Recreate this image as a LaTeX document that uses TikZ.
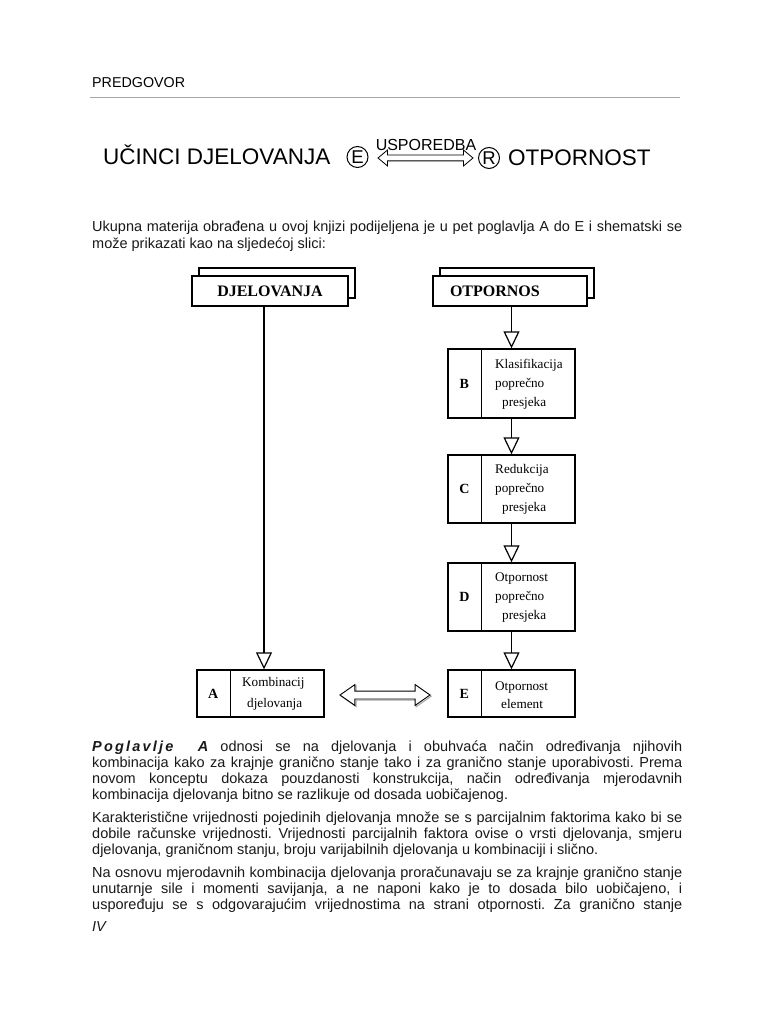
\documentclass[tikz,border=0pt]{standalone}
\usepackage{fontspec}
\setmainfont{Liberation Sans}
\newfontfamily\tms{Liberation Serif}
\usetikzlibrary{arrows.meta,shapes.arrows,calc}
\frenchspacing
\newcommand\jl[1]{\makebox[590pt][s]{#1}}
\newcommand\pg{\textbf{\textit{P\kern2.2pt o\kern2.2pt g\kern2.2pt l\kern2.2pt a\kern2.2pt v\kern2.2pt l\kern2.2pt j\kern2.2pt e}}}
\begin{document}
\begin{tikzpicture}[x=1pt,y=-1pt,
  body/.style={anchor=base west, inner sep=0pt, font=\fontsize{14.5}{16}\selectfont, text=black!90},
  hdr/.style={draw, line width=1.4pt, fill=white, minimum width=156pt, minimum height=30pt, inner sep=0pt, font=\tms\bfseries\fontsize{16}{18}\selectfont},
  bx/.style={draw, line width=1.4pt, minimum width=127pt, inner sep=0pt},
  divider/.style={line width=1.4pt},
  letter/.style={font=\tms\bfseries\fontsize{14}{16}\selectfont, inner sep=0pt},
  cell/.style={font=\tms\fontsize{13.2}{19}\selectfont, align=left, anchor=west, inner sep=0pt},
  conn/.style={line width=1.2pt, -{Triangle[open, length=17pt, width=16pt, line width=1.2pt]}},
  circ/.style={circle, draw, line width=1pt, inner sep=0pt, minimum size=21pt, font=\fontsize{18.5}{18}\selectfont},
  title/.style={anchor=base west, inner sep=0pt, font=\fontsize{22.5}{24}\selectfont}
]
\fill[white] (0,0) rectangle (768,1024);
\useasboundingbox (0,0) rectangle (768,1024);

% header
\node[anchor=base west, inner sep=0pt, font=\fontsize{14.3}{16}\selectfont] (hd) at (92,88) {PREDGOVOR};
\draw[gray!70, line width=0.8pt] (90,97) -- (680,97);

% title
\node[title] (t1) at (103,165) {UČINCI DJELOVANJA};
\node[circ] (ce) at (357.5,157) {E};
\node[circ] (cr) at (489,158) {R};
\node[double arrow, draw, line width=0.8pt, fill=white, minimum height=95pt, inner sep=2.5pt,
      double arrow head extend=5pt, double arrow tip angle=80] (ta) at (425.5,158) {};
\node[inner sep=0pt, font=\fontsize{16}{16}\selectfont] (usp) at (426,145) {USPOREDBA};
\node[title] (t2) at (508,166) {OTPORNOST};

% intro paragraph
\node[body] (p1a) at (92,232) {\jl{Ukupna materija obrađena u ovoj knjizi podijeljena je u pet poglavlja A do E i shematski se}};
\node[body] (p1b) at (92,248) {može prikazati kao na sljedećoj slici:};

% header boxes
\node[hdr] (DJb) at (277,283) {};
\node[hdr] (DJ) at (270,291) {DJELOVANJA};
\node[hdr, minimum width=154pt] (OTPb) at (517,283) {};
\node[hdr, minimum width=154pt, text width=140pt, align=left] (OTP) at (510,291) {\hspace*{10pt}OTPORNOS};

% B
\node[bx, minimum height=69pt] (B) at (511.5,383.5) {};
\draw[divider] ($(B.north west)+(34,0)$) -- ($(B.south west)+(34,0)$);
\node[letter] (Bl) at ($(B.west)+(17,0)$) {B};
\node[cell] (Bt) at (495,384) {Klasifikacija\\poprečno\\\hspace*{7pt}presjeka};
% C
\node[bx, minimum height=68pt] (C) at (511.5,489) {};
\draw[divider] ($(C.north west)+(34,0)$) -- ($(C.south west)+(34,0)$);
\node[letter] (Cl) at ($(C.west)+(17,0)$) {C};
\node[cell] (Ct) at (495,489.5) {Redukcija\\poprečno\\\hspace*{7pt}presjeka};
% D
\node[bx, minimum height=68pt] (D) at (511.5,597) {};
\draw[divider] ($(D.north west)+(34,0)$) -- ($(D.south west)+(34,0)$);
\node[letter] (Dl) at ($(D.west)+(17,0)$) {D};
\node[cell] (Dt) at (495,597.5) {Otpornost\\poprečno\\\hspace*{7pt}presjeka};
% E
\node[bx, minimum height=47pt] (E) at (511.5,693.5) {};
\draw[divider] ($(E.north west)+(34,0)$) -- ($(E.south west)+(34,0)$);
\node[letter] (El) at ($(E.west)+(17,0)$) {E};
\node[cell, font=\tms\fontsize{13.2}{18}\selectfont] (Et) at (495,695) {Otpornost\\\hspace*{6pt}element};
% A
\node[bx, minimum height=47pt] (A) at (260.5,693.5) {};
\draw[divider] ($(A.north west)+(34,0)$) -- ($(A.south west)+(34,0)$);
\node[letter] (Al) at ($(A.west)+(17,0)$) {A};
\node[cell, font=\tms\fontsize{13.2}{21}\selectfont] (At) at (242,694) {Kombinacij\\\hspace*{5pt}djelovanja};

% connectors
\draw[conn] (B.north |- OTP.south) -- (B.north);
\draw[conn] (B.south) -- (C.north);
\draw[conn] (C.south) -- (D.north);
\draw[conn] (D.south) -- (E.north);
\coordinate (atop) at ($(A.north)+(3.5,0)$);
\draw[conn] (atop |- DJ.south) -- (atop);

% comparison arrow
\node[double arrow, draw=black!35, line width=1pt, minimum height=90pt, inner sep=3.5pt,
      double arrow head extend=6.5pt, double arrow tip angle=70] (cmps) at (386.2,696.2) {};
\node[double arrow, draw, fill=white, line width=0.9pt, minimum height=90pt, inner sep=3.5pt,
      double arrow head extend=6.5pt, double arrow tip angle=70] (cmp) at (385,695) {};

% body text
\node[body] (p2a) at (92,751) {\jl{\pg\ \ \textbf{\textit{A}} odnosi se na djelovanja i obuhvaća način određivanja njihovih}};
\node[body] (p2b) at (92,767) {\jl{kombinacija kako za krajnje granično stanje tako i za granično stanje uporabivosti. Prema}};
\node[body] (p2c) at (92,783) {\jl{novom konceptu dokaza pouzdanosti konstrukcija, način određivanja mjerodavnih}};
\node[body] (p2d) at (92,799) {kombinacija djelovanja bitno se razlikuje od dosada uobičajenog.};

\node[body] (p3a) at (92,822) {\jl{Karakteristične vrijednosti pojedinih djelovanja množe se s parcijalnim faktorima kako bi se}};
\node[body] (p3b) at (92,838) {\jl{dobile računske vrijednosti. Vrijednosti parcijalnih faktora ovise o vrsti djelovanja, smjeru}};
\node[body] (p3c) at (92,854) {djelovanja, graničnom stanju, broju varijabilnih djelovanja u kombinaciji i slično.};

\node[body] (p4a) at (92,877) {\jl{Na osnovu mjerodavnih kombinacija djelovanja proračunavaju se za krajnje granično stanje}};
\node[body] (p4b) at (92,893) {\jl{unutarnje sile i momenti savijanja, a ne naponi kako je to dosada bilo uobičajeno, i}};
\node[body] (p4c) at (92,909) {\jl{uspoređuju se s odgovarajućim vrijednostima na strani otpornosti. Za granično stanje}};

\node[body, font=\itshape\fontsize{14.5}{16}\selectfont] (pgno) at (92,931) {IV};
\end{tikzpicture}
\end{document}
